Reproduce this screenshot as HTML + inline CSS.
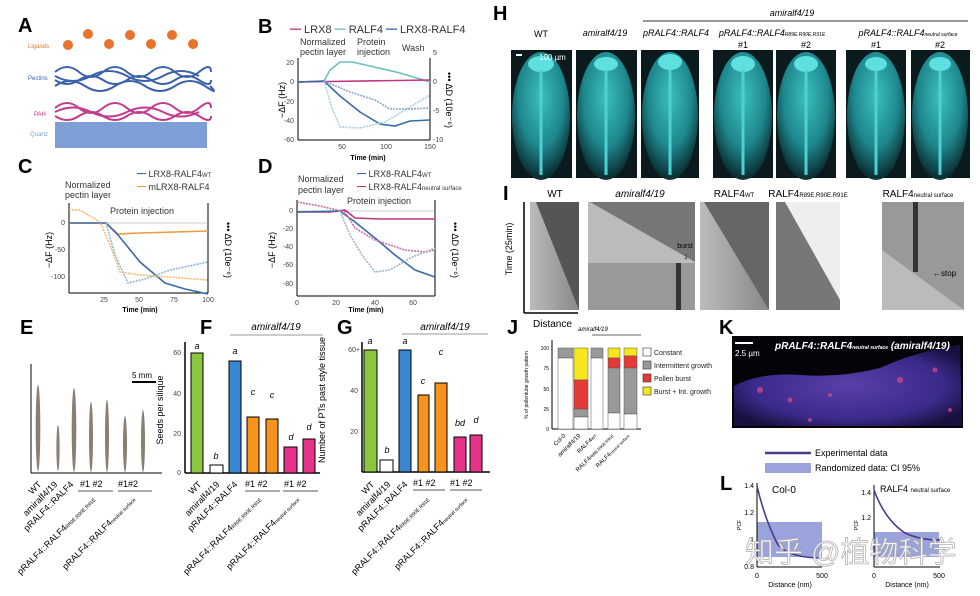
<!DOCTYPE html>
<html><head><meta charset="utf-8"><style>
body{margin:0;background:#fff}
svg{display:block;font-family:"Liberation Sans","Noto Sans CJK SC",sans-serif}
.L{font-weight:bold;font-size:20px}
.t{font-size:9px;fill:#333}
.s{font-size:7px;fill:#444}
</style></head><body>
<svg width="980" height="596" viewBox="0 0 980 596" xmlns="http://www.w3.org/2000/svg">
<defs>
<radialGradient id="tg" cx="50%" cy="35%" r="65%"><stop offset="0" stop-color="#3fc9c9"/><stop offset="0.6" stop-color="#1f8d93"/><stop offset="1" stop-color="#0a2a2e"/></radialGradient>
<linearGradient id="kg" x1="0" y1="0" x2="1" y2="0"><stop offset="0" stop-color="#bbb"/><stop offset="1" stop-color="#888"/></linearGradient>
<radialGradient id="kk" cx="50%" cy="50%" r="60%"><stop offset="0" stop-color="#5a3fa8"/><stop offset="0.7" stop-color="#3b2a8a"/><stop offset="1" stop-color="#1a1040"/></radialGradient>
</defs>
<rect width="980" height="596" fill="#fff"/>

<!-- A -->
<text x="18" y="32" class="L">A</text>
<g fill="#e8742c"><circle cx="68" cy="45" r="5"/><circle cx="88" cy="34" r="5"/><circle cx="109" cy="44" r="5"/><circle cx="130" cy="35" r="5"/><circle cx="151" cy="44" r="5"/><circle cx="172" cy="35" r="5"/><circle cx="193" cy="44" r="5"/></g>
<text x="28" y="48" font-size="6" fill="#e8742c">Ligands</text>
<text x="28" y="80" font-size="6" fill="#3a5ea8">Pectins</text>
<text x="34" y="116" font-size="6" fill="#c0307f">PAH</text>
<text x="30" y="136" font-size="6" fill="#7d9fd6">Quartz</text>
<g fill="none" stroke="#3b62aa" stroke-width="2">
<path d="M55 72 q12 -10 24 0 t24 0 t24 0 t24 0 t24 0 t24 0 t12 0"/>
<path d="M55 80 q12 8 24 0 t24 0 t24 0 t24 0 t24 0 t24 0 t12 0"/>
<path d="M55 86 q15 -10 30 0 t30 0 t30 0 t30 0 t30 0 t5 0"/>
<path d="M55 76 q18 10 36 0 t36 0 t36 0 t36 0"/>
</g>
<g fill="none" stroke="#c13a8e" stroke-width="2">
<path d="M55 108 q12 -10 24 0 t24 0 t24 0 t24 0 t24 0 t24 0 t12 0"/>
<path d="M55 116 q12 8 24 0 t24 0 t24 0 t24 0 t24 0 t24 0 t12 0"/>
<path d="M55 112 q18 -9 36 0 t36 0 t36 0 t36 0"/>
</g>
<rect x="55" y="122" width="152" height="26" fill="#7d9fd6"/>

<!-- B -->
<text x="258" y="33" class="L">B</text>
<text x="290" y="33" font-size="11" fill="#333"><tspan fill="#c2357f">━</tspan> LRX8 <tspan fill="#6bbfbf">━</tspan> RALF4 <tspan fill="#3a6aa8">━</tspan> LRX8-RALF4</text>
<text x="300" y="45" class="t">Normalized</text><text x="300" y="55" class="t">pectin layer</text>
<text x="357" y="45" class="t">Protein</text><text x="357" y="55" class="t">injection</text>
<text x="402" y="51" class="t">Wash</text>
<line x1="298" y1="58" x2="298" y2="140" stroke="#000"/><line x1="298" y1="140" x2="430" y2="140" stroke="#000"/><line x1="430" y1="58" x2="430" y2="140" stroke="#000"/>
<g class="s" text-anchor="end"><text x="294" y="65">20</text><text x="294" y="84">0</text><text x="294" y="104">-20</text><text x="294" y="123">-40</text><text x="294" y="142">-60</text></g>
<g class="s"><text x="433" y="55">5</text><text x="433" y="84">0</text><text x="433" y="113">-5</text><text x="433" y="142">-10</text></g>
<g class="s" text-anchor="middle"><text x="342" y="149">50</text><text x="386" y="149">100</text><text x="430" y="149">150</text></g>
<text x="368" y="160" font-size="7" text-anchor="middle" font-weight="bold">Time (min)</text>
<text x="285" y="100" font-size="9" transform="rotate(-90 285 100)" text-anchor="middle">−ΔF (Hz)</text>
<text x="446" y="100" font-size="9" transform="rotate(90 446 100)" text-anchor="middle">••• ΔD (10e⁻⁶)</text>
<g fill="none" stroke-width="1.6">
<path d="M298 82 L324 81 L330 70 L340 62 L352 62 L370 66 L400 73 L430 82" stroke="#6bbfbf"/>
<path d="M298 82 L430 80" stroke="#c2357f"/>
<path d="M298 82 L324 81 L340 96 L360 112 L380 124 L395 126 L410 121 L430 120" stroke="#3a6aa8"/>
<path d="M324 81 L332 108 L340 127 L360 128 L385 122 L405 110 L430 95" stroke="#a8d3e0" stroke-dasharray="2 1"/>
<path d="M324 81 L350 92 L375 100 L390 109 L410 109 L430 108" stroke="#8aa5c8" stroke-dasharray="2 1"/>
</g>

<!-- C -->
<text x="18" y="173" class="L">C</text>
<text x="137" y="177" class="t" font-size="10"><tspan fill="#3a6aa8">━ </tspan>LRX8-RALF4<tspan font-size="6">WT</tspan></text>
<text x="137" y="190" class="t" font-size="10"><tspan fill="#f29a3a">━ </tspan>mLRX8-RALF4</text>
<text x="65" y="188" class="t">Normalized</text><text x="65" y="198" class="t">pectin layer</text>
<text x="110" y="214" class="t">Protein injection</text>
<line x1="69" y1="203" x2="69" y2="293" stroke="#000"/><line x1="69" y1="293" x2="208" y2="293" stroke="#000"/><line x1="208" y1="203" x2="208" y2="293" stroke="#000"/>
<line x1="69" y1="223" x2="208" y2="223" stroke="#999" stroke-width="0.6"/>
<g class="s" text-anchor="end"><text x="65" y="225">0</text><text x="65" y="252">-50</text><text x="65" y="279">-100</text></g>
<g class="s" text-anchor="middle"><text x="104" y="302">25</text><text x="139" y="302">50</text><text x="174" y="302">75</text><text x="208" y="302">100</text></g>
<text x="140" y="312" font-size="7" text-anchor="middle" font-weight="bold">Time (min)</text>
<text x="52" y="250" font-size="9" transform="rotate(-90 52 250)" text-anchor="middle">−ΔF (Hz)</text>
<text x="225" y="250" font-size="9" transform="rotate(90 225 250)" text-anchor="middle">••• ΔD (10e⁻⁶)</text>
<g fill="none" stroke-width="1.6">
<path d="M69 223 L106 223 L118 234 L140 233 L175 232 L208 231" stroke="#f29a3a"/>
<path d="M69 223 L106 223 L118 235 L140 262 L165 283 L185 289 L208 294" stroke="#3a6aa8"/>
<path d="M69 210 L80 210 L100 222 L110 245 L120 272 L140 275 L170 277 L208 280" stroke="#f6b97a" stroke-dasharray="2 1"/>
<path d="M106 223 L115 255 L128 283 L145 279 L170 270 L208 262" stroke="#8fb5d8" stroke-dasharray="2 1"/>
</g>

<!-- D -->
<text x="258" y="173" class="L">D</text>
<text x="357" y="177" class="t" font-size="10"><tspan fill="#3a6aa8">━ </tspan>LRX8-RALF4<tspan font-size="6">WT</tspan></text>
<text x="357" y="190" class="t" font-size="10"><tspan fill="#c2357f">━ </tspan>LRX8-RALF4<tspan font-size="6">neutral surface</tspan></text>
<text x="298" y="182" class="t">Normalized</text><text x="298" y="193" class="t">pectin layer</text>
<text x="347" y="204" class="t">Protein injection</text>
<line x1="297" y1="200" x2="297" y2="296" stroke="#000"/><line x1="297" y1="296" x2="435" y2="296" stroke="#000"/><line x1="435" y1="200" x2="435" y2="296" stroke="#000"/>
<line x1="297" y1="211" x2="435" y2="211" stroke="#999" stroke-width="0.6"/>
<g class="s" text-anchor="end"><text x="293" y="213">0</text><text x="293" y="231">-20</text><text x="293" y="249">-40</text><text x="293" y="267">-60</text><text x="293" y="286">-80</text></g>
<g class="s" text-anchor="middle"><text x="297" y="305">0</text><text x="336" y="305">20</text><text x="375" y="305">40</text><text x="413" y="305">60</text></g>
<text x="366" y="312" font-size="7" text-anchor="middle" font-weight="bold">Time (min)</text>
<text x="275" y="250" font-size="9" transform="rotate(-90 275 250)" text-anchor="middle">−ΔF (Hz)</text>
<text x="452" y="250" font-size="9" transform="rotate(90 452 250)" text-anchor="middle">••• ΔD (10e⁻⁶)</text>
<g fill="none" stroke-width="1.6">
<path d="M297 212 L330 212 L345 210 L355 218 L380 219 L435 219" stroke="#c2357f"/>
<path d="M297 212 L340 211 L355 222 L375 238 L395 255 L415 270 L435 277" stroke="#3a6aa8"/>
<path d="M297 202 L320 206 L345 212 L355 228 L375 240 L405 250 L425 252 L435 250" stroke="#c96fa3" stroke-dasharray="2 1"/>
<path d="M340 211 L350 235 L362 255 L375 272 L390 270 L410 258 L435 248" stroke="#9fb4c4" stroke-dasharray="2 1"/>
</g>

<!-- E -->
<text x="20" y="334" class="L">E</text>
<line x1="31" y1="364" x2="31" y2="473" stroke="#000"/><line x1="31" y1="473" x2="162" y2="473" stroke="#000"/>
<g fill="#8a7e72"><ellipse cx="38" cy="428" rx="2.3" ry="43"/><ellipse cx="58" cy="448" rx="1.6" ry="23"/><ellipse cx="74" cy="430" rx="2.3" ry="42"/><ellipse cx="91" cy="437" rx="2" ry="35"/><ellipse cx="107" cy="436" rx="2" ry="36"/><ellipse cx="125" cy="444" rx="2" ry="28"/><ellipse cx="143" cy="441" rx="2" ry="31"/></g>
<line x1="132" y1="382" x2="156" y2="382" stroke="#000" stroke-width="2"/><text x="132" y="378" font-size="8">5 mm</text>
<g font-size="9" text-anchor="end">
<text x="42" y="485" transform="rotate(-45 42 485)">WT</text>
<text x="58" y="485" transform="rotate(-45 58 485)">amiralf4/19</text>
<text x="74" y="485" transform="rotate(-45 74 485)">pRALF4::RALF4</text>
<text x="96" y="500" transform="rotate(-45 96 500)">pRALF4::RALF4<tspan font-size="5">R89E.R90E.R91E</tspan></text>
<text x="136" y="500" transform="rotate(-45 136 500)">pRALF4::RALF4<tspan font-size="5">neutral surface</tspan></text>
<text x="80" y="487" text-anchor="start">#1 #2</text><text x="118" y="487" text-anchor="start">#1#2</text>
</g>
<line x1="78" y1="491" x2="113" y2="491" stroke="#555"/><line x1="118" y1="491" x2="152" y2="491" stroke="#555"/>

<!-- F -->
<text x="200" y="334" class="L">F</text>
<text x="276" y="330" font-size="10" font-style="italic" text-anchor="middle">amiralf4/19</text>
<line x1="230" y1="335" x2="323" y2="335" stroke="#999"/>
<line x1="185" y1="342" x2="185" y2="473" stroke="#000" stroke-width="1.5"/><line x1="185" y1="473" x2="320" y2="473" stroke="#000" stroke-width="1.5"/>
<g class="s" text-anchor="end" font-size="8"><text x="181" y="475">0</text><text x="181" y="436">20</text><text x="181" y="396">40</text><text x="181" y="355">60</text></g>
<text x="163" y="410" font-size="9" transform="rotate(-90 163 410)" text-anchor="middle">Seeds per silique</text>
<g stroke="#000" stroke-width="1">
<rect x="191" y="353" width="12" height="120" fill="#8cc63f"/>
<rect x="210" y="465" width="13" height="8" fill="#fff"/>
<rect x="229" y="361" width="12" height="112" fill="#3a86d0"/>
<rect x="247" y="417" width="12" height="56" fill="#f7941d"/>
<rect x="266" y="419" width="12" height="54" fill="#f7941d"/>
<rect x="284" y="447" width="13" height="26" fill="#e6338a"/>
<rect x="303" y="439" width="12" height="34" fill="#e6338a"/>
</g>
<g font-size="9" font-style="italic" text-anchor="middle"><text x="197" y="349">a</text><text x="216" y="459">b</text><text x="235" y="354">a</text><text x="253" y="395">c</text><text x="272" y="398">c</text><text x="291" y="440">d</text><text x="309" y="430">d</text></g>
<g font-size="9" text-anchor="end">
<text x="202" y="485" transform="rotate(-45 202 485)">WT</text>
<text x="220" y="485" transform="rotate(-45 220 485)">amiralf4/19</text>
<text x="238" y="485" transform="rotate(-45 238 485)">pRALF4::RALF4</text>
<text x="262" y="500" transform="rotate(-45 262 500)">pRALF4::RALF4<tspan font-size="5">R89E.R90E.R91E</tspan></text>
<text x="300" y="500" transform="rotate(-45 300 500)">pRALF4::RALF4<tspan font-size="5">neutral surface</tspan></text>
<text x="245" y="487" text-anchor="start">#1 #2</text><text x="284" y="487" text-anchor="start">#1 #2</text>
</g>
<line x1="245" y1="491" x2="280" y2="491" stroke="#555"/><line x1="283" y1="491" x2="318" y2="491" stroke="#555"/>

<!-- G -->
<text x="337" y="334" class="L">G</text>
<text x="445" y="330" font-size="10" font-style="italic" text-anchor="middle">amiralf4/19</text>
<line x1="402" y1="334" x2="488" y2="334" stroke="#999"/>
<line x1="362" y1="342" x2="362" y2="472" stroke="#000" stroke-width="1.5"/><line x1="362" y1="472" x2="490" y2="472" stroke="#000" stroke-width="1.5"/>
<g class="s" text-anchor="end" font-size="8"><text x="360" y="352">60+</text><text x="358" y="393">40</text><text x="358" y="434">20</text></g>
<text x="325" y="400" font-size="9" transform="rotate(-90 325 400)" text-anchor="middle">Number of PTs past style tissue</text>
<g stroke="#000" stroke-width="1">
<rect x="364" y="350" width="13" height="122" fill="#8cc63f"/>
<rect x="380" y="460" width="13" height="12" fill="#fff"/>
<rect x="399" y="350" width="12" height="122" fill="#3a86d0"/>
<rect x="418" y="395" width="11" height="77" fill="#f7941d"/>
<rect x="435" y="383" width="12" height="89" fill="#f7941d"/>
<rect x="454" y="437" width="12" height="35" fill="#e6338a"/>
<rect x="470" y="435" width="12" height="37" fill="#e6338a"/>
</g>
<g font-size="9" font-style="italic" text-anchor="middle"><text x="370" y="344">a</text><text x="387" y="453">b</text><text x="405" y="344">a</text><text x="423" y="384">c</text><text x="441" y="355">c</text><text x="460" y="426">bd</text><text x="476" y="423">d</text></g>
<g font-size="9" text-anchor="end">
<text x="375" y="485" transform="rotate(-45 375 485)">WT</text>
<text x="391" y="485" transform="rotate(-45 391 485)">amiralf4/19</text>
<text x="408" y="485" transform="rotate(-45 408 485)">pRALF4::RALF4</text>
<text x="430" y="500" transform="rotate(-45 430 500)">pRALF4::RALF4<tspan font-size="5">R89E.R90E.R91E</tspan></text>
<text x="468" y="500" transform="rotate(-45 468 500)">pRALF4::RALF4<tspan font-size="5">neutral surface</tspan></text>
<text x="413" y="486" text-anchor="start">#1 #2</text><text x="450" y="486" text-anchor="start">#1 #2</text>
</g>
<line x1="413" y1="490" x2="445" y2="490" stroke="#555"/><line x1="450" y1="490" x2="482" y2="490" stroke="#555"/>

<!-- H -->
<text x="493" y="20" class="L">H</text>
<text x="792" y="16" font-size="9" font-style="italic" text-anchor="middle">amiralf4/19</text>
<line x1="643" y1="21" x2="968" y2="21" stroke="#333"/>
<g font-size="9" font-style="italic" text-anchor="middle">
<text x="541" y="37" font-style="normal">WT</text>
<text x="605" y="36">amiralf4/19</text><text x="676" y="36">pRALF4::RALF4</text>
<text x="772" y="36">pRALF4::RALF4<tspan font-size="5">R89E.R90E.R91E</tspan></text>
<text x="908" y="36">pRALF4::RALF4<tspan font-size="5">neutral surface</tspan></text>
<text x="743" y="48" font-style="normal">#1</text><text x="806" y="48" font-style="normal">#2</text>
<text x="876" y="48" font-style="normal">#1</text><text x="940" y="48" font-style="normal">#2</text>
</g>
<g>
<rect x="511" y="50" width="61" height="128" fill="#0b1a1c"/><rect x="576" y="50" width="61" height="128" fill="#0b1a1c"/><rect x="641" y="50" width="58" height="128" fill="#0b1a1c"/>
<rect x="713" y="50" width="60" height="128" fill="#0b1a1c"/><rect x="776" y="50" width="60" height="128" fill="#0b1a1c"/><rect x="846" y="50" width="60" height="128" fill="#0b1a1c"/><rect x="911" y="50" width="59" height="128" fill="#0b1a1c"/>
<g fill="url(#tg)" opacity="0.95">
<ellipse cx="541" cy="116" rx="29" ry="64"/><ellipse cx="606" cy="116" rx="29" ry="64"/><ellipse cx="670" cy="116" rx="28" ry="64"/>
<ellipse cx="743" cy="116" rx="29" ry="64"/><ellipse cx="806" cy="116" rx="29" ry="64"/><ellipse cx="876" cy="116" rx="29" ry="64"/><ellipse cx="940" cy="116" rx="28" ry="64"/>
</g>
<g fill="#5fe0e0"><ellipse cx="541" cy="64" rx="13" ry="8"/><ellipse cx="606" cy="64" rx="12" ry="7"/><ellipse cx="670" cy="62" rx="12" ry="8"/><ellipse cx="743" cy="64" rx="12" ry="8"/><ellipse cx="806" cy="64" rx="12" ry="8"/><ellipse cx="876" cy="64" rx="11" ry="7"/><ellipse cx="940" cy="64" rx="11" ry="7"/></g>
<g stroke="#4fd0d0" stroke-width="3"><line x1="541" y1="70" x2="541" y2="175"/><line x1="606" y1="70" x2="606" y2="175"/><line x1="670" y1="70" x2="670" y2="175"/><line x1="743" y1="70" x2="743" y2="175"/><line x1="806" y1="70" x2="806" y2="175"/><line x1="876" y1="70" x2="876" y2="175"/><line x1="940" y1="70" x2="940" y2="175"/></g>
<line x1="516" y1="55" x2="522" y2="55" stroke="#fff" stroke-width="2"/><text x="539" y="60" font-size="8" fill="#fff">100 µm</text>
</g>

<!-- I -->
<text x="503" y="200" class="L">I</text>
<g font-size="10" text-anchor="middle">
<text x="555" y="197">WT</text><text x="640" y="197" font-style="italic">amiralf4/19</text>
<text x="734" y="197">RALF4<tspan font-size="6">WT</tspan></text>
<text x="808" y="197">RALF4<tspan font-size="6">R89E.R90E.R91E</tspan></text>
<text x="918" y="197">RALF4<tspan font-size="6">neutral surface</tspan></text>
</g>
<line x1="524" y1="202" x2="524" y2="313" stroke="#000" stroke-width="1.5"/>
<line x1="524" y1="313" x2="578" y2="313" stroke="#000" stroke-width="1.5"/>
<text x="520" y="257" font-size="9" transform="rotate(-90 512 257)" text-anchor="middle">Time (25min)</text>
<text x="533" y="327" font-size="10">Distance</text>
<g>
<rect x="530" y="202" width="49" height="108" fill="url(#kg)"/><polygon points="536,202 579,202 579,310" fill="#555"/>
<rect x="588" y="202" width="107" height="108" fill="#bbb"/><polygon points="590,202 695,202 695,262" fill="#777"/><rect x="588" y="263" width="107" height="47" fill="#999"/><rect x="676" y="263" width="5" height="47" fill="#333"/>
<text x="685" y="248" font-size="7" text-anchor="middle">burst</text><text x="686" y="259" font-size="9" text-anchor="middle">↓</text>
<rect x="700" y="202" width="69" height="108" fill="url(#kg)"/><polygon points="704,202 769,202 769,310" fill="#666"/>
<rect x="776" y="202" width="64" height="108" fill="#eee"/><polygon points="776,202 785,202 840,300 840,310 776,310" fill="#777"/>
<rect x="882" y="202" width="82" height="108" fill="#999"/><polygon points="882,250 964,310 882,310" fill="#bbb"/><rect x="913" y="202" width="5" height="70" fill="#333"/>
<text x="933" y="276" font-size="8">←stop</text>
</g>

<!-- J -->
<text x="507" y="334" class="L">J</text>
<text x="593" y="331" font-size="6" font-style="italic" text-anchor="middle">amiralf4/19</text>
<line x1="592" y1="335" x2="641" y2="335" stroke="#666"/>
<line x1="552" y1="340" x2="552" y2="429" stroke="#000"/><line x1="552" y1="429" x2="641" y2="429" stroke="#000"/>
<g font-size="5" text-anchor="end"><text x="549" y="350">100</text><text x="549" y="370">75</text><text x="549" y="391">50</text><text x="549" y="411">25</text><text x="549" y="431">0</text></g>
<text x="528" y="385" font-size="5" transform="rotate(-90 528 385)" text-anchor="middle">% of pollentube growth pattern</text>
<g stroke="#555" stroke-width="0.5">
<rect x="558" y="348" width="15" height="10" fill="#999"/><rect x="558" y="358" width="15" height="71" fill="#fff"/>
<rect x="574" y="348" width="14" height="32" fill="#f5e61e"/><rect x="574" y="380" width="14" height="29" fill="#e53935"/><rect x="574" y="409" width="14" height="8" fill="#999"/><rect x="574" y="417" width="14" height="12" fill="#fff"/>
<rect x="591" y="348" width="12" height="10" fill="#999"/><rect x="591" y="358" width="12" height="71" fill="#fff"/>
<rect x="608" y="348" width="12" height="10" fill="#f5e61e"/><rect x="608" y="358" width="12" height="10" fill="#e53935"/><rect x="608" y="368" width="12" height="45" fill="#999"/><rect x="608" y="413" width="12" height="16" fill="#fff"/>
<rect x="624" y="348" width="13" height="8" fill="#f5e61e"/><rect x="624" y="356" width="13" height="12" fill="#e53935"/><rect x="624" y="368" width="13" height="46" fill="#999"/><rect x="624" y="414" width="13" height="15" fill="#fff"/>
</g>
<g font-size="7" fill="#222">
<rect x="643" y="348" width="8" height="8" fill="#fff" stroke="#333" stroke-width="0.6"/><text x="654" y="355">Constant</text>
<rect x="643" y="361" width="8" height="8" fill="#999" stroke="#333" stroke-width="0.6"/><text x="654" y="368">Intermittent growth</text>
<rect x="643" y="374" width="8" height="8" fill="#e53935" stroke="#333" stroke-width="0.6"/><text x="654" y="381">Pollen burst</text>
<rect x="643" y="387" width="8" height="8" fill="#f5e61e" stroke="#333" stroke-width="0.6"/><text x="654" y="394">Burst + Int. growth</text>
</g>
<g font-size="6" text-anchor="end">
<text x="566" y="436" transform="rotate(-45 566 436)">Col-0</text><text x="581" y="436" transform="rotate(-45 581 436)">amiralf4/19</text>
<text x="597" y="436" transform="rotate(-45 597 436)">RALF4<tspan font-size="4">WT</tspan></text>
<text x="614" y="436" transform="rotate(-45 614 436)">RALF4<tspan font-size="4">R89E.R90E.R91E</tspan></text>
<text x="630" y="436" transform="rotate(-45 630 436)">RALF4<tspan font-size="4">neutral surface</tspan></text>
</g>

<!-- K -->
<text x="719" y="334" class="L">K</text>
<rect x="732" y="336" width="231" height="92" fill="#050308"/>
<path d="M734 386 Q760 372 800 375 Q840 378 880 368 Q920 350 960 345 L962 426 L734 426 Z" fill="url(#kk)"/>
<g fill="#d94c8a" opacity="0.7"><circle cx="760" cy="390" r="3"/><circle cx="790" cy="400" r="2.5"/><circle cx="830" cy="395" r="2"/><circle cx="900" cy="380" r="3"/><circle cx="935" cy="370" r="2.5"/><circle cx="950" cy="410" r="2"/><circle cx="810" cy="420" r="2"/></g>
<line x1="735" y1="343" x2="753" y2="343" stroke="#fff" stroke-width="2"/>
<text x="735" y="356" font-size="8" fill="#fff">2.5 µm</text>
<text x="775" y="349" font-size="10" fill="#fff" font-style="italic" font-weight="bold">pRALF4::RALF4<tspan font-size="5">neutral surface</tspan> (amiralf4/19)</text>

<!-- L -->
<line x1="765" y1="453" x2="811" y2="453" stroke="#4a3a8c" stroke-width="2.5"/>
<text x="815" y="456" font-size="9">Experimental data</text>
<rect x="765" y="463" width="46" height="10" fill="#9aa3db"/>
<text x="815" y="471" font-size="9">Randomized data: CI 95%</text>
<text x="720" y="490" class="L">L</text>
<rect x="757" y="522" width="65" height="35" fill="#9aa3db"/>
<line x1="757" y1="483" x2="757" y2="567" stroke="#000"/><line x1="757" y1="567" x2="822" y2="567" stroke="#000"/>
<path d="M757 486 Q765 520 778 545 Q790 558 822 558" fill="none" stroke="#4a3a8c" stroke-width="1.6"/>
<g font-size="7" text-anchor="end"><text x="754" y="488">1.4</text><text x="754" y="515">1.2</text><text x="754" y="542">1</text><text x="754" y="569">0.8</text></g>
<text x="772" y="493" font-size="10">Col-0</text>
<rect x="874" y="532" width="65" height="25" fill="#9aa3db"/>
<line x1="874" y1="485" x2="874" y2="567" stroke="#000"/><line x1="874" y1="567" x2="940" y2="567" stroke="#000"/>
<path d="M874 490 Q885 520 905 533 Q920 540 940 540" fill="none" stroke="#4a3a8c" stroke-width="1.6"/>
<g font-size="7" text-anchor="end"><text x="871" y="495">1.4</text><text x="871" y="520">1.2</text></g>
<text x="880" y="492" font-size="9">RALF4 <tspan font-size="6">neutral surface</tspan></text>
<text x="741" y="530" font-size="5" transform="rotate(-90 741 530)">PCF</text>
<text x="858" y="530" font-size="5" transform="rotate(-90 858 530)">PCF</text>
<g font-size="7" text-anchor="middle"><text x="757" y="578">0</text><text x="822" y="578">500</text><text x="874" y="578">0</text><text x="939" y="578">500</text><text x="790" y="587">Distance (nm)</text><text x="907" y="587">Distance (nm)</text></g>
<text x="745" y="562" font-size="29" fill="#fff" stroke="#aaa" stroke-width="0.8" opacity="0.9">知乎 @植物科学</text>
</svg>
</body></html>
